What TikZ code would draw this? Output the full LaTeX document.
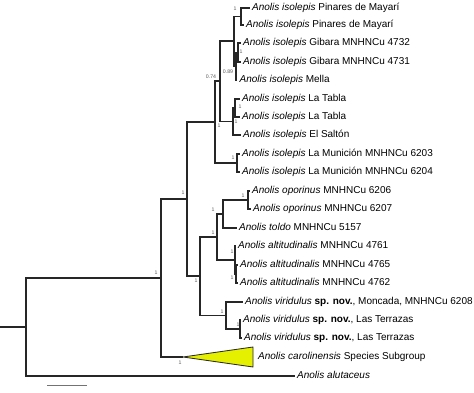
\documentclass[tikz,border=0pt]{standalone}
\usepackage{fontspec}
\setmainfont{Liberation Sans}
\usetikzlibrary{positioning}
\definecolor{cladeyellow}{RGB}{228,240,0}

\tikzset{
    branch/.style={draw=black!85, line width=1.3pt, line join=miter},
    fatbranch/.style={draw=black!85, line width=2.6pt},
    tiplabel/.style={inner sep=0pt, text height=7.2pt, text depth=2.1pt, font=\fontsize{10}{12}\selectfont},
    support/.style={inner sep=0pt, text=black!65, font=\fontsize{5.2}{6}\selectfont},
    clade/.style={draw=black!85, line width=0.8pt, fill=cladeyellow},
    scalebar/.style={draw=black!55, line width=1pt}
}

\begin{document}
\begin{tikzpicture}[x=1pt, y=-1pt]
    \useasboundingbox (0,0) rectangle (474,392);
    % Internal nodes (x, y)
    \foreach \n/\x/\y in {root/26/327, D/161/278, A/187/199, N0/215/122, N1/220/81,
        N2/234/41, P/241/16.5, N3/236/66, G/238/52.5, N5/233/121.5, LT/235/108,
        M/237/163, B/200/276, C/217/237, OT/223/214, O/248/200, AL/235/260,
        AL2/236/274, V/226/315.5, V2/240/329, car/183/357} {
        \coordinate (\n) at (\x,\y);
    }
    % Tips (end of terminal branch)
    \foreach \n/\x/\y in {t1/249.5/8, t2/243.5/25, t3/240.5/43, t4/240.5/62, t5/237/80,
        t6/239.5/99, t7/239.5/117, t8/240.5/135, t9/239.5/154, t10/239.5/172,
        t11/249.5/191, t12/250.5/209, t13/236.5/228, t14/235.5/246, t15/237.5/265,
        t16/237.5/283, t17/242.5/302, t18/240.5/320, t19/241.5/338, t21/294.5/376} {
        \coordinate (\n) at (\x,\y);
    }
    \coordinate (stub) at (0,327);
    \coordinate (cb1) at (253,347);
    \coordinate (cb2) at (253,367);
    \coordinate (sb1) at (47,385);
    \coordinate (sb2) at (87,385);

    % Branches, parent to child
    \draw[branch] (stub) -- (root);
    \foreach \p/\c in {root/D, root/t21, D/A, D/car, A/N0, A/B, N0/N1, N0/M,
        N1/N2, N1/N5, N2/P, N2/N3, P/t1, P/t2, N3/G, N3/t5, G/t3, G/t4,
        N5/LT, N5/t8, LT/t6, LT/t7, M/t9, M/t10, B/C, B/V, C/OT, C/AL,
        OT/O, OT/t13, O/t11, O/t12, AL/t14, AL/AL2, AL2/t15, AL2/t16,
        V/t17, V/V2, V2/t18, V2/t19} {
        \draw[branch] (\p) |- (\c);
    }
    % Short stacked branches look heavier
    \draw[fatbranch] (N3 |- G) -- (N3 |- t5);
    \draw[fatbranch] (AL2 |- t15) -- (AL2 |- t16);

    % Collapsed subgroup
    \draw[clade] (car) -- (cb1) -- (cb2) -- cycle;

    % Tip labels
    \foreach \t/\txt in {
        t1/{\textit{Anolis isolepis} Pinares de Mayarí},
        t2/{\textit{Anolis isolepis} Pinares de Mayarí},
        t3/{\textit{Anolis isolepis} Gibara MNHNCu 4732},
        t4/{\textit{Anolis isolepis} Gibara MNHNCu 4731},
        t5/{\textit{Anolis isolepis} Mella},
        t6/{\textit{Anolis isolepis} La Tabla},
        t7/{\textit{Anolis isolepis} La Tabla},
        t8/{\textit{Anolis isolepis} El Saltón},
        t9/{\textit{Anolis isolepis} La Munición MNHNCu 6203},
        t10/{\textit{Anolis isolepis} La Munición MNHNCu 6204},
        t11/{\textit{Anolis oporinus} MNHNCu 6206},
        t12/{\textit{Anolis oporinus} MNHNCu 6207},
        t13/{\textit{Anolis toldo} MNHNCu 5157},
        t14/{\textit{Anolis altitudinalis} MNHNCu 4761},
        t15/{\textit{Anolis altitudinalis} MNHNCu 4765},
        t16/{\textit{Anolis altitudinalis} MNHNCu 4762},
        t17/{\textit{Anolis viridulus} \textbf{sp. nov.}, Moncada, MNHNCu 6208},
        t18/{\textit{Anolis viridulus} \textbf{sp. nov.}, Las Terrazas},
        t19/{\textit{Anolis viridulus} \textbf{sp. nov.}, Las Terrazas},
        t21/{\textit{Anolis alutaceus}}} {
        \node[tiplabel, right=2.5pt of \t] (l\t) {\txt};
    }
    \node[tiplabel, right=5pt of car -| cb1] (lcar) {\textit{Anolis carolinensis} Species Subgroup};

    % Support values
    \foreach \x/\y/\v [count=\i] in {235/9/1, 241/52/1, 228/72/0.89, 211/77/0.74,
        240/107/1, 236/122/1, 219/126/1, 233/158/1, 243/196/1, 213/210/1,
        213/233/1, 232/252/1, 232/278/1, 196/281/1, 222/312/1, 238/325/1,
        183/193/1, 156/273/1, 180/363/1} {
        \node[support] (s\i) at (\x,\y) {\v};
    }

    % Scale bar
    \draw[scalebar] (sb1) -- (sb2);
\end{tikzpicture}
\end{document}
